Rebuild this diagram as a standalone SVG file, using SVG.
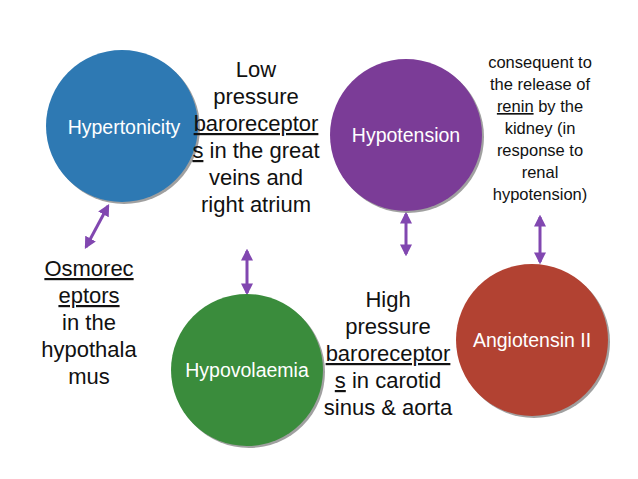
<svg xmlns="http://www.w3.org/2000/svg" width="638" height="479" viewBox="0 0 638 479">
<defs>
<style>
.sh{fill:#777;opacity:.7}
.cl{font-family:"Liberation Sans",Arial,sans-serif;font-size:19.5px;fill:#fff;text-anchor:middle}
.t{font-family:"Liberation Sans",Arial,sans-serif;font-size:22px;fill:#111;text-anchor:middle}
.s{font-family:"Liberation Sans",Arial,sans-serif;font-size:16.5px;fill:#111;text-anchor:middle}
.c{stroke:#8147b0;stroke-width:3;fill:none;marker-start:url(#a);marker-end:url(#a)}
</style>
<marker id="a" viewBox="0 0 10 10" refX="8" refY="5" markerWidth="4" markerHeight="4" orient="auto-start-reverse"><path d="M0,0L10,5L0,10z" fill="#8147b0"/></marker>
</defs>
<rect width="638" height="479" fill="#fff"/>
<g id="connectors">
<line class="c" x1="108" y1="206" x2="86" y2="247"/>
<line class="c" x1="247" y1="251" x2="247" y2="293"/>
<line class="c" x1="406" y1="214" x2="406" y2="254"/>
<line class="c" x1="540" y1="217" x2="540" y2="262"/>
</g>
<g id="hypertonicity"><circle class="sh" cx="124" cy="128" r="76"/><circle cx="122" cy="126" r="76" fill="#2e79b3"/><text class="cl" x="124" y="134">Hypertonicity</text></g>
<g id="hypotension"><circle class="sh" cx="408" cy="137" r="76"/><circle cx="406" cy="135" r="76" fill="#7b3c97"/><text class="cl" x="406" y="142">Hypotension</text></g>
<g id="hypovolaemia"><circle class="sh" cx="249" cy="372" r="76"/><circle cx="247" cy="370" r="76" fill="#3a8c3c"/><text class="cl" x="247" y="377">Hypovolaemia</text></g>
<g id="angiotensin"><circle class="sh" cx="534" cy="342" r="76"/><circle cx="532" cy="340" r="76" fill="#b24232"/><text class="cl" x="532" y="347">Angiotensin II</text></g>
<g id="low-pressure"><text class="t"><tspan x="256" y="77">Low</tspan><tspan x="256" y="104">pressure</tspan><tspan x="256" y="131" text-decoration="underline">baroreceptor</tspan><tspan x="256" y="158"><tspan text-decoration="underline">s</tspan> in the great</tspan><tspan x="256" y="185">veins and</tspan><tspan x="256" y="212">right atrium</tspan></text></g>
<g id="osmoreceptors"><text class="t"><tspan x="89" y="276" text-decoration="underline">Osmorec</tspan><tspan x="89" y="303" text-decoration="underline">eptors</tspan><tspan x="89" y="330">in the</tspan><tspan x="89" y="357">hypothala</tspan><tspan x="89" y="384">mus</tspan></text></g>
<g id="high-pressure"><text class="t"><tspan x="388" y="307">High</tspan><tspan x="388" y="334">pressure</tspan><tspan x="388" y="361" text-decoration="underline">baroreceptor</tspan><tspan x="388" y="388"><tspan text-decoration="underline">s</tspan> in carotid</tspan><tspan x="388" y="415">sinus &amp; aorta</tspan></text></g>
<g id="consequent"><text class="s"><tspan x="540" y="68">consequent to</tspan><tspan x="540" y="90">the release of</tspan><tspan x="540" y="112"><tspan text-decoration="underline">renin</tspan> by the</tspan><tspan x="540" y="134">kidney (in</tspan><tspan x="540" y="156">response to</tspan><tspan x="540" y="178">renal</tspan><tspan x="540" y="200">hypotension)</tspan></text></g>
</svg>
